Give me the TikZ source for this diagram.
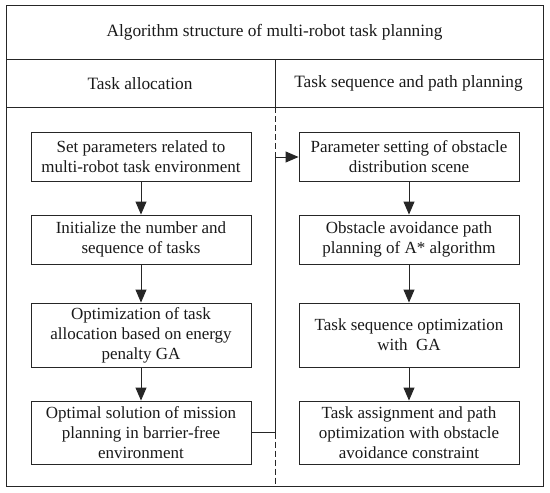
\documentclass[tikz,border=0pt]{standalone}
\usepackage{fontspec}
\setmainfont{Liberation Serif}
\usetikzlibrary{arrows.meta}
\begin{document}
\begin{tikzpicture}[x=1pt,y=-1pt,
  line/.style={draw=black!85, line width=0.9pt},
  stepbox/.style={line, rectangle, minimum width=220pt, align=center, inner sep=0pt, font=\fontsize{17}{20}\selectfont, text=black!90},
  lbl/.style={font=\fontsize{17.3}{20}\selectfont, text=black!90, inner sep=0pt},
  arr/.style={line, -{Triangle[length=13pt,width=11pt]}}]
\useasboundingbox (0,0) rectangle (550,493);
% frame
\draw[line] (6,5) rectangle (543,486);
\draw[line] (6,59.5) -- (543,59.5);
\draw[line] (6,107) -- (543,107);
\draw[line] (275,59.5) -- (275,107);
\node[lbl] (title) at (274.5,32) {Algorithm structure of multi-robot task planning};
\node[lbl] (ta) at (140,83.5) {Task allocation};
\node[lbl] (tp) at (408.5,83.5) {Task sequence and path planning};
% left column
\node[stepbox, minimum height=49pt] (a1) at (141,156.5) {Set parameters related to\\multi-robot task environment};
\node[stepbox, minimum height=49pt] (a2) at (141,239.5) {Initialize the number and\\sequence of tasks};
\node[stepbox, minimum height=64pt] (a3) at (141,335) {Optimization of task\\allocation based on energy\\penalty GA};
\node[stepbox, minimum height=63pt] (a4) at (141,432.5) {Optimal solution of mission\\planning in barrier-free\\environment};
% right column
\node[stepbox, minimum height=49pt] (b1) at (409,156.5) {Parameter setting of obstacle\\distribution scene};
\node[stepbox, minimum height=49pt] (b2) at (409,239.5) {Obstacle avoidance path\\planning of A* algorithm};
\node[stepbox, minimum height=64pt] (b3) at (409,335) {Task sequence optimization\\with\ \ GA};
\node[stepbox, minimum height=63pt] (b4) at (409,432.5) {Task assignment and path\\optimization with obstacle\\avoidance constraint};
\draw[arr] (a1) -- (a2);
\draw[arr] (a2) -- (a3);
\draw[arr] (a3) -- (a4);
\draw[arr] (b1) -- (b2);
\draw[arr] (b2) -- (b3);
\draw[arr] (b3) -- (b4);
% divider and link
\coordinate (dtop) at (275,107);
\coordinate (dbot) at (275,486);
\coordinate (j1) at (275,432.5);
\coordinate (j2) at (275,157);
\draw[line, dash pattern=on 6pt off 3pt] (dtop) -- (j2);
\draw[line, dash pattern=on 6pt off 3pt] (j1) -- (dbot);
\draw[line] (a4.east) -- (j1) -- (j2);
\draw[arr] (j2) -- (b1.west |- j2);
\end{tikzpicture}
\end{document}
